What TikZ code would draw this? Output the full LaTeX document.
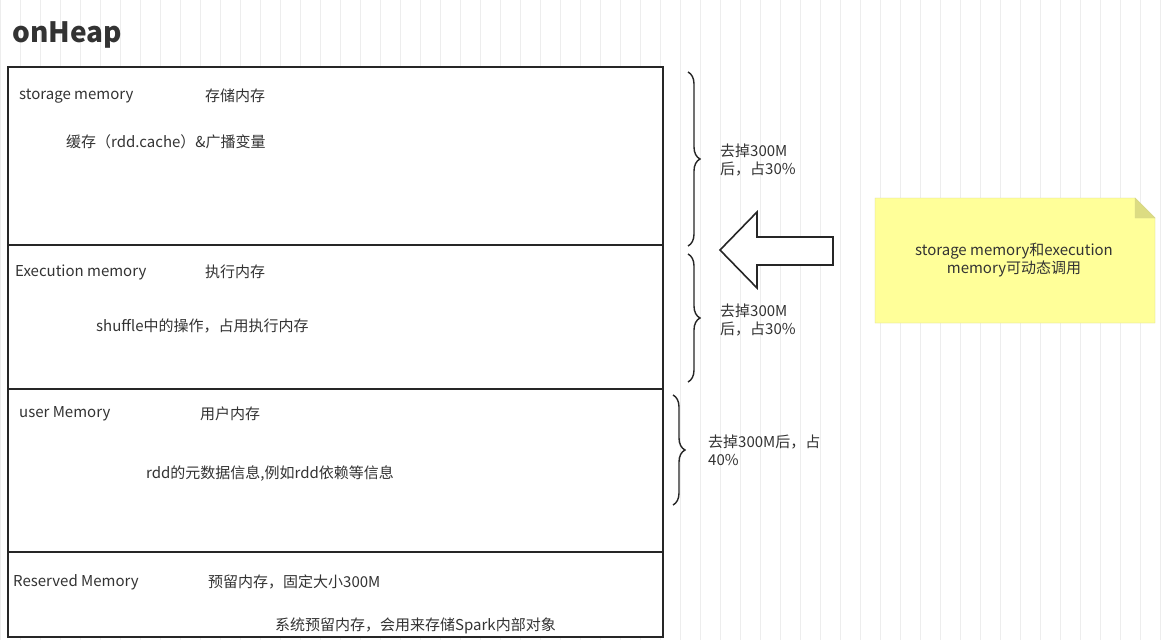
\documentclass[tikz,border=0pt]{standalone}
\usepackage{fontspec}
\setmainfont{Noto Sans CJK SC}
\usetikzlibrary{decorations.pathreplacing}
\begin{document}
\begin{tikzpicture}[x=1pt,y=-1pt,
  lbl/.style={anchor=west,inner sep=0,font=\fontsize{15}{18}\selectfont,text=black!80},
  sect/.style={draw=black!85,line width=1.6pt,fill=white},
  brc/.style={draw=black!85,line width=1.4pt,decorate,decoration={brace,amplitude=12pt}}]
\useasboundingbox (0,0) rectangle (1164,640);
\fill[white] (0,0) rectangle (1164,640);
\draw[black!7,line width=0.6pt,step=20] (0,0) grid (1164,640);
\node[lbl,font=\fontsize{28}{32}\selectfont\bfseries] (title) at (12,35) {onHeap};
\draw[sect] (8,67) rectangle (663,245);
\draw[sect] (8,245) rectangle (663,389);
\draw[sect] (8,389) rectangle (663,552);
\draw[sect] (8,552) rectangle (663,637);
\node[lbl] (s1) at (19,96) {storage memory};
\node[lbl] (s2) at (205,96) {存储内存};
\node[lbl] (s3) at (66,142) {缓存（rdd.cache）\&广播变量};
\node[lbl] (e1) at (15,272) {Execution memory};
\node[lbl] (e2) at (205,272) {执行内存};
\node[lbl] (e3) at (96,326) {shuffle中的操作，占用执行内存};
\node[lbl] (u1) at (19,414) {user Memory};
\node[lbl] (u2) at (200,414) {用户内存};
\node[lbl] (u3) at (146,474) {rdd的元数据信息,例如rdd依赖等信息};
\node[lbl] (r1) at (13,582) {Reserved Memory};
\node[lbl] (r2) at (208,582) {预留内存，固定大小300M};
\node[lbl] (r3) at (275,626) {系统预留内存，会用来存储Spark内部对象};
\draw[brc] (688,72) -- (688,246);
\draw[brc] (688,254) -- (688,382);
\draw[brc] (673,395) -- (673,505);
\node[lbl,align=left] (b1) at (720,160) {去掉300M\\后，占30\%};
\node[lbl,align=left] (b2) at (720,320) {去掉300M\\后，占30\%};
\node[lbl,align=left] (b3) at (708,450) {去掉300M后，占\\40\%};
\draw[black!85,line width=1.6pt,fill=white,line join=miter] (720,250) -- (757,212) -- (757,237) -- (833,237) -- (833,265) -- (757,265) -- (757,288) -- cycle;
\draw[fill={rgb,255:red,255;green,255;blue,153},draw={rgb,255:red,214;green,214;blue,140}] (875,198) -- (1135,198) -- (1155,218) -- (1155,323) -- (875,323) -- cycle;
\draw[fill={rgb,255:red,220;green,220;blue,130},draw={rgb,255:red,214;green,214;blue,140}] (1135,198) -- (1135,218) -- (1155,218) -- cycle;
\node[lbl,anchor=center,align=center] (note) at (1014,260) {storage memory和execution\\memory可动态调用};
\end{tikzpicture}
\end{document}
